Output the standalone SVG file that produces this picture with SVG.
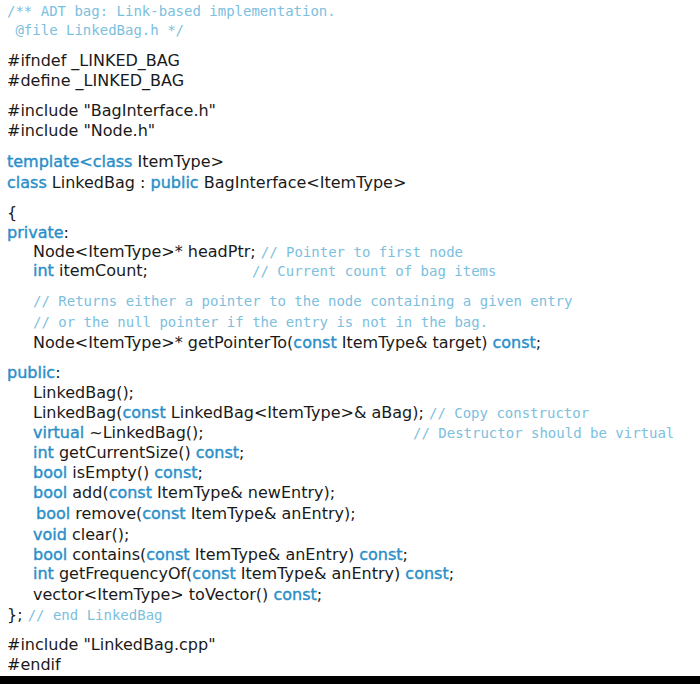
<svg xmlns="http://www.w3.org/2000/svg" width="700" height="684" viewBox="0 0 700 684">
<style>
text{font-family:"DejaVu Sans","Liberation Sans",sans-serif;font-size:16px;fill:#1a1a1a;white-space:pre}
.k{fill:#2a8fc9;stroke:#2a8fc9;stroke-width:0.4}
.c{fill:#7cc0de;stroke:none;font-family:"DejaVu Sans Mono","Liberation Mono",monospace;font-size:14px}
</style>
<rect width="700" height="684" fill="#fff"/>
<rect x="0" y="676" width="700" height="8" fill="#000"/>
<g id="code">
<text x="7" y="16"><tspan class="c">/** ADT bag: Link-based implementation.</tspan></text>
<text x="7" y="35"><tspan class="c"> @file LinkedBag.h */</tspan></text>
<text x="7" y="66">#ifndef _LINKED_BAG</text>
<text x="7" y="86">#define _LINKED_BAG</text>
<text x="7" y="116">#include "BagInterface.h"</text>
<text x="7" y="136">#include "Node.h"</text>
<text x="7" y="167"><tspan class="k">template&lt;class</tspan> ItemType&gt;</text>
<text x="7" y="188"><tspan class="k">class</tspan> LinkedBag : <tspan class="k">public</tspan> BagInterface&lt;ItemType&gt;</text>
<text x="7" y="218">{</text>
<text x="7" y="238"><tspan class="k">private</tspan>:</text>
<text x="33" y="257">Node&lt;ItemType&gt;* headPtr; <tspan class="c">// Pointer to first node</tspan></text>
<text x="33" y="276"><tspan class="k">int</tspan> itemCount;</text>
<text x="252" y="276"><tspan class="c">// Current count of bag items</tspan></text>
<text x="33" y="306"><tspan class="c">// Returns either a pointer to the node containing a given entry</tspan></text>
<text x="33" y="327"><tspan class="c">// or the null pointer if the entry is not in the bag.</tspan></text>
<text x="33" y="348">Node&lt;ItemType&gt;* getPointerTo(<tspan class="k">const</tspan> ItemType&amp; target) <tspan class="k">const</tspan>;</text>
<text x="7" y="378"><tspan class="k">public</tspan>:</text>
<text x="33" y="398">LinkedBag();</text>
<text x="33" y="418">LinkedBag(<tspan class="k">const</tspan> LinkedBag&lt;ItemType&gt;&amp; aBag); <tspan class="c">// Copy constructor</tspan></text>
<text x="33" y="438"><tspan class="k">virtual</tspan> ~LinkedBag();</text>
<text x="413" y="438"><tspan class="c">// Destructor should be virtual</tspan></text>
<text x="33" y="458"><tspan class="k">int</tspan> getCurrentSize() <tspan class="k">const</tspan>;</text>
<text x="33" y="478"><tspan class="k">bool</tspan> isEmpty() <tspan class="k">const</tspan>;</text>
<text x="33" y="498"><tspan class="k">bool</tspan> add(<tspan class="k">const</tspan> ItemType&amp; newEntry);</text>
<text x="36" y="519"><tspan class="k">bool</tspan> remove(<tspan class="k">const</tspan> ItemType&amp; anEntry);</text>
<text x="33" y="540"><tspan class="k">void</tspan> clear();</text>
<text x="33" y="560"><tspan class="k">bool</tspan> contains(<tspan class="k">const</tspan> ItemType&amp; anEntry) <tspan class="k">const</tspan>;</text>
<text x="33" y="579"><tspan class="k">int</tspan> getFrequencyOf(<tspan class="k">const</tspan> ItemType&amp; anEntry) <tspan class="k">const</tspan>;</text>
<text x="33" y="600">vector&lt;ItemType&gt; toVector() <tspan class="k">const</tspan>;</text>
<text x="7" y="620">}; <tspan class="c">// end LinkedBag</tspan></text>
<text x="7" y="650">#include "LinkedBag.cpp"</text>
<text x="7" y="670">#endif</text>
</g>
</svg>
